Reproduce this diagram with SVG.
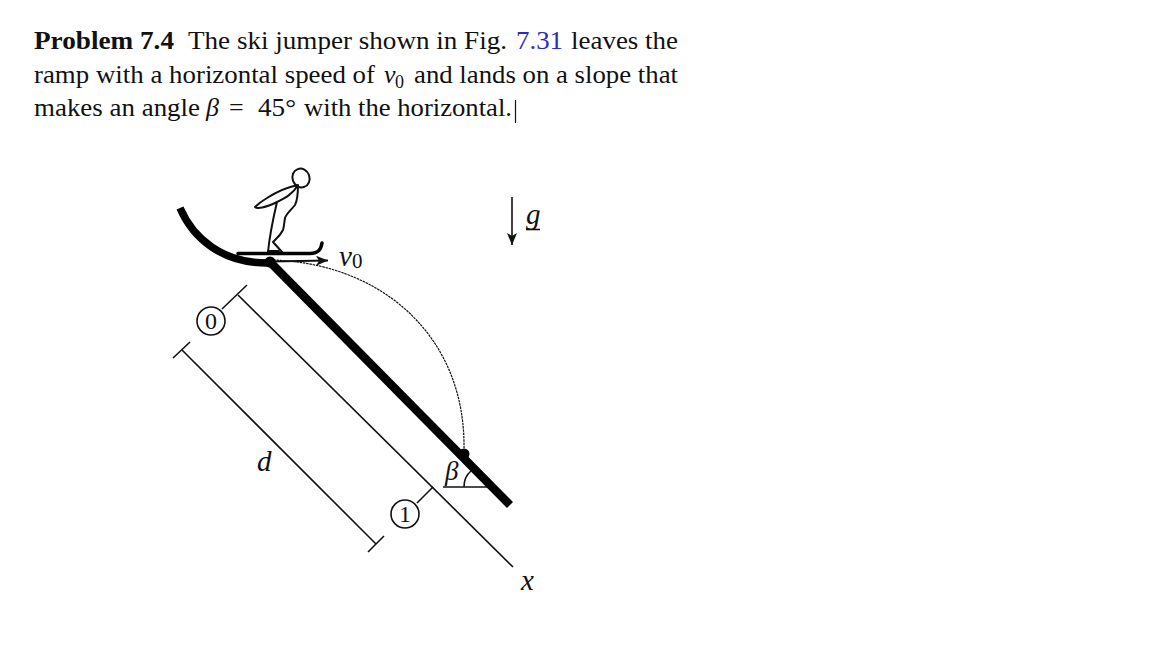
<svg xmlns="http://www.w3.org/2000/svg" width="1152" height="648" viewBox="0 0 1152 648">
<style>
text{font-family:"Liberation Serif","Times New Roman",serif;fill:#111}
.t{font-size:26px}
.b{font-weight:bold}
.i{font-style:italic}
.l{fill:none;stroke:#111;stroke-width:1.600}
.m{fill:none;stroke:#111;stroke-width:2;stroke-linejoin:round;stroke-linecap:round}
.h{fill:none;stroke:#000;stroke-width:7.500}
.lab{font-size:29px;font-style:italic}
.n{font-size:24px;text-anchor:middle}
</style>
<defs>
<marker id="a" markerWidth="13" markerHeight="10" refX="12" refY="5" orient="auto" markerUnits="userSpaceOnUse"><path d="M0 0L12 5L0 10L3 5Z" fill="#111"/></marker>
</defs>
<rect width="1152" height="648" fill="#fff"/>
<g id="problem-text">
<text class="t b" x="34" y="49" textLength="140" lengthAdjust="spacingAndGlyphs">Problem 7.4</text>
<text class="t" x="188" y="49" textLength="319" lengthAdjust="spacingAndGlyphs">The ski jumper shown in Fig.</text>
<text class="t" x="516" y="49" textLength="47" lengthAdjust="spacingAndGlyphs" style="fill:#2a2ac0">7.31</text>
<text class="t" x="571" y="49" textLength="107" lengthAdjust="spacingAndGlyphs">leaves the</text>
<text class="t" x="34" y="83" textLength="341" lengthAdjust="spacingAndGlyphs">ramp with a horizontal speed of</text>
<text class="t i" x="384" y="83">v</text><text x="395" y="88" font-size="18">0</text>
<text class="t" x="414" y="83" textLength="264" lengthAdjust="spacingAndGlyphs">and lands on a slope that</text>
<text class="t" x="34" y="116" textLength="166" lengthAdjust="spacingAndGlyphs">makes an angle</text>
<text class="t i" x="206" y="116">β</text>
<text class="t" x="229" y="116">=</text>
<text class="t" x="258" y="116" textLength="38" lengthAdjust="spacingAndGlyphs">45°</text>
<text class="t" x="304" y="116" textLength="208" lengthAdjust="spacingAndGlyphs">with the horizontal.</text>
<path d="M515.500 100V123" stroke="#111" stroke-width="1.200"/>
</g>
<g id="connectors">
<path id="trajectory" d="M270 260C380 262 466 335 464 450" fill="none" stroke="#111" stroke-width="1.200" stroke-dasharray="2.500 .8"/>
<path id="v0-arrow" d="M270 261.500L328 260.500" class="l" style="stroke-width:2" marker-end="url(#a)"/>
<path id="x-axis" d="M238 295L513 567" class="l"/>
<path id="tick-0" d="M247 285L222 309" class="l"/>
<path id="tick-1" d="M433 487L417 503" class="l"/>
<path id="d-line" d="M182 350L376 544" class="l"/>
<path d="M190 342L173 358M384 536L368 552" class="l"/>
<path id="g-arrow" d="M512 197V245" class="l" marker-end="url(#a)"/>
<path id="beta-base" d="M443 487H487M464 487C464 480 466 475 471 471" class="l"/>
</g>
<g id="ramp">
<path d="M180 208C193 238 222 264 270 263" class="h"/>
<path d="M270 262L510 505" class="h" style="stroke-width:8.500"/>
<circle cx="270" cy="262" r="5.500" fill="#000"/>
<circle cx="464" cy="454" r="5.500" fill="#000"/>
</g>
<g id="jumper">
<ellipse cx="301" cy="178" rx="8.500" ry="9.500" class="m" transform="rotate(-20 301 178)"/>
<path d="M298 185C288 187 278 191 267 198C262 201 257 205 255 207C257 209 265 208 277 202C285 198 293 194 298 185C298 195 297 201 295 205C291 210 286 214 285 218C284 224 284 227 283 230C280 236 276 239 273 242L282 252M277 202C274 215 270 232 268 252" class="m"/>
<path d="M268 251H279" class="m"/>
<path d="M238 253.500H310C318 253.500 321 250 322 243" fill="none" stroke="#000" stroke-width="3.500" stroke-linecap="round"/>
</g>
<g id="node-0">
<circle cx="211" cy="321" r="14" class="l"/>
<text class="n" x="211" y="329">0</text>
</g>
<g id="node-1">
<circle cx="405" cy="514" r="14" class="l"/>
<text class="n" x="405" y="522">1</text>
</g>
<g id="labels">
<text class="lab" x="339" y="266">v</text><text x="352" y="268" font-size="21">0</text>
<text class="lab" x="257" y="471">d</text>
<text class="lab" x="445" y="480" style="font-size:27px">β</text>
<text class="lab" x="521" y="590">x</text>
<text class="lab" x="526" y="224">g</text>
<path d="M526 229.500H540" class="l"/>
</g>
</svg>
